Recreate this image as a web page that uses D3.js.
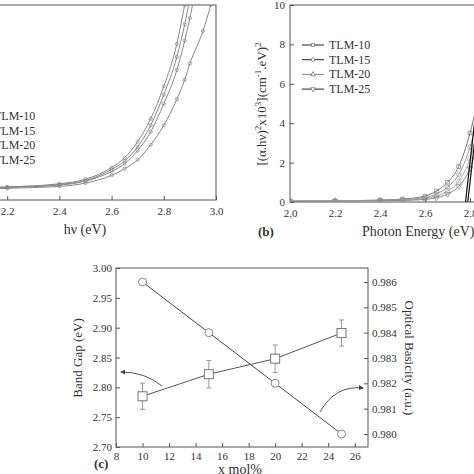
<!DOCTYPE html>
<html><head><meta charset="utf-8">
<script src="https://cdn.jsdelivr.net/npm/d3@7"></script>
<style>body{margin:0;background:#fff}text{font-family:"Liberation Serif",serif;fill:#333}</style>
</head><body><svg id="fig" width="474" height="474"></svg>
<script>
var names = ["TLM-10", "TLM-15", "TLM-20", "TLM-25"];

// panel (a) absorption edge
var aX = [2.0, 2.2, 2.4, 2.5, 2.6, 2.65, 2.7, 2.75, 2.8, 2.85, 2.88, 2.9, 2.95, 2.98, 3.0];
var aY = [
  [0.18, 0.2, 0.25, 0.32, 0.5, 0.65, 0.9, 1.25, 1.75, 2.4, 3.0, 3.4, 4, 4, 4],
  [0.17, 0.2, 0.24, 0.3, 0.47, 0.6, 0.82, 1.15, 1.62, 2.2, 2.7, 3.1, 4, 4, 4],
  [0.16, 0.19, 0.23, 0.29, 0.44, 0.56, 0.76, 1.05, 1.48, 2.0, 2.45, 2.8, 3.8, 4, 4],
  [0.15, 0.18, 0.21, 0.26, 0.38, 0.48, 0.62, 0.85, 1.15, 1.55, 1.85, 2.1, 2.6, 3.0, 3.3]
];

// panel (b) Tauc plot
var bX = [2.0, 2.2, 2.4, 2.5, 2.6, 2.65, 2.7, 2.75, 2.8, 2.85];
var bY = [
  [0.05, 0.06, 0.1, 0.15, 0.3, 0.55, 1.0, 1.8, 3.5, 6.0],
  [0.04, 0.05, 0.08, 0.12, 0.22, 0.4, 0.75, 1.4, 2.8, 5.2],
  [0.04, 0.05, 0.07, 0.1, 0.18, 0.3, 0.55, 1.05, 2.2, 4.5],
  [0.03, 0.04, 0.06, 0.08, 0.13, 0.22, 0.4, 0.8, 1.7, 3.8]
];
var bTangents = [[2.78, 0, 2.84, 6], [2.79, 0, 2.85, 6]];

// panel (c)
var xMol = [10, 15, 20, 25];
var bandGap = [2.785, 2.822, 2.848, 2.891];
var bandErr = [0.022, 0.023, 0.023, 0.022];
var basicity = [0.986, 0.984, 0.982, 0.980];

var svg = d3.select("#fig");
var grey = "#888";

function frame(g, x0, y0, x1, y1, id) {
  svg.append("clipPath").attr("id", id).append("rect")
    .attr("x", x0).attr("y", y0).attr("width", x1 - x0).attr("height", y1 - y0);
  g.append("rect").attr("x", x0).attr("y", y0).attr("width", x1 - x0).attr("height", y1 - y0)
    .attr("fill", "none").attr("stroke", "#555").attr("stroke-width", 1);
}
function styleAxis(a) {
  a.selectAll("path").remove();
  a.selectAll("line").attr("stroke", "#555");
  a.selectAll("text").style("font-size", "11px");
}

// ---- (a)
var ga = svg.append("g");
var xa = d3.scaleLinear().domain([2.0, 3.0]).range([-45, 216]);
var ya = d3.scaleLinear().domain([0, 3]).range([200, 5]);
frame(ga, -50, 5, 216, 200, "ca");
ga.append("g").attr("transform", "translate(0,200)")
  .call(d3.axisBottom(xa).tickValues([2.0, 2.2, 2.4, 2.6, 2.8, 3.0]).tickSize(-4).tickPadding(7).tickFormat(d3.format(".1f")))
  .call(styleAxis);
ga.append("text").attr("x", 85).attr("y", 234).attr("text-anchor", "middle").style("font-size", "14px").text("hν (eV)");
var pa = ga.append("g").attr("clip-path", "url(#ca)");
aY.forEach(function (ys) {
  var pts = aX.map(function (x, i) { return [xa(x), ya(ys[i])]; });
  pa.append("path").attr("d", d3.line().curve(d3.curveMonotoneX)(pts))
    .attr("fill", "none").attr("stroke", grey).attr("stroke-width", 1);
  pa.selectAll(null).data(pts).enter().append("circle")
    .attr("cx", function (d) { return d[0]; }).attr("cy", function (d) { return d[1]; })
    .attr("r", 1.6).attr("fill", "none").attr("stroke", grey).attr("stroke-width", 0.7);
});
names.forEach(function (n, i) {
  ga.append("text").attr("x", -6).attr("y", 120 + i * 14.5).style("font-size", "12px").text(n);
});

// ---- (b)
var gb = svg.append("g");
var xb = d3.scaleLinear().domain([2.0, 2.8]).range([290, 470]);
var yb = d3.scaleLinear().domain([0, 10]).range([202, 5]);
frame(gb, 290, 5, 480, 202, "cb");
gb.append("g").attr("transform", "translate(0,202)")
  .call(d3.axisBottom(xb).tickValues([2.0, 2.2, 2.4, 2.6, 2.8]).tickSize(-4).tickPadding(7).tickFormat(d3.format(".1f")))
  .call(styleAxis);
gb.append("g").attr("transform", "translate(290,0)")
  .call(d3.axisLeft(yb).tickValues([0, 2, 4, 6, 8, 10]).tickSize(-4).tickPadding(5))
  .call(styleAxis);
gb.append("text").attr("transform", "translate(266,104) rotate(-90)").attr("text-anchor", "middle")
  .style("font-size", "13px").html("[(α.hν)<tspan dy='-5' font-size='9'>2</tspan><tspan dy='5'>x10</tspan><tspan dy='-5' font-size='9'>3</tspan><tspan dy='5'>](cm</tspan><tspan dy='-5' font-size='9'>-1</tspan><tspan dy='5'>.eV)</tspan><tspan dy='-5' font-size='9'>2</tspan>");
gb.append("text").attr("x", 258).attr("y", 236).style("font-size", "13px").style("font-weight", "bold").text("(b)");
gb.append("text").attr("x", 362).attr("y", 236).style("font-size", "14px").text("Photon Energy (eV)");
var pb = gb.append("g").attr("clip-path", "url(#cb)");
var syms = [d3.symbolSquare, d3.symbolCircle, d3.symbolTriangle, d3.symbolTriangle];
var bCol = ["#777", "#999", "#aaa", "#888"];
bY.forEach(function (ys, k) {
  var pts = bX.map(function (x, i) { return [xb(x), yb(ys[i])]; });
  pb.append("path").attr("d", d3.line().curve(d3.curveMonotoneX)(pts))
    .attr("fill", "none").attr("stroke", bCol[k]).attr("stroke-width", 1);
  pb.selectAll(null).data(pts).enter().append("path")
    .attr("d", d3.symbol().type(syms[k]).size(14))
    .attr("transform", function (d) { return "translate(" + d[0] + "," + d[1] + ")" + (k === 3 ? " rotate(180)" : ""); })
    .attr("fill", "none").attr("stroke", bCol[k]).attr("stroke-width", 0.7);
});
bTangents.forEach(function (t) {
  pb.append("line").attr("x1", xb(t[0])).attr("y1", yb(t[1])).attr("x2", xb(t[2])).attr("y2", yb(t[3]))
    .attr("stroke", "#111").attr("stroke-width", 1.2);
});
names.forEach(function (n, i) {
  var y = 45 + i * 14.7;
  gb.append("line").attr("x1", 302).attr("x2", 324).attr("y1", y).attr("y2", y).attr("stroke", i === 2 ? "#888" : "#222");
  gb.append("path").attr("d", d3.symbol().type(syms[i]).size(10)())
    .attr("transform", "translate(313," + y + ")" + (i === 3 ? " rotate(180)" : ""))
    .attr("fill", "#fff").attr("stroke", "#666").attr("stroke-width", 0.7);
  gb.append("text").attr("x", 329).attr("y", y + 4).style("font-size", "12px").text(n);
});

// ---- (c)
var gc = svg.append("g");
var xc = d3.scaleLinear().domain([8, 27]).range([116, 368]);
var yc = d3.scaleLinear().domain([2.70, 3.00]).range([447, 268]);
var yr = d3.scaleLinear().domain([0.980, 0.986]).range([434, 282]);
frame(gc, 116, 268, 368, 447, "cc");
gc.append("g").attr("transform", "translate(0,447)")
  .call(d3.axisBottom(xc).tickValues(d3.range(8, 27, 2)).tickSize(-4).tickPadding(5))
  .call(styleAxis);
gc.append("g").attr("transform", "translate(116,0)")
  .call(d3.axisLeft(yc).tickValues([2.70, 2.75, 2.80, 2.85, 2.90, 2.95, 3.00]).tickSize(-4).tickPadding(4).tickFormat(d3.format(".2f")))
  .call(styleAxis);
gc.append("g").attr("transform", "translate(368,0)")
  .call(d3.axisRight(yr).tickValues(d3.range(0, 7).map(function (i) { return basicity[3] + i * 0.001; })).tickSize(-4).tickPadding(4).tickFormat(d3.format(".3f")))
  .call(styleAxis);
gc.append("text").attr("transform", "translate(82,358) rotate(-90)").attr("text-anchor", "middle").style("font-size", "13px").text("Band Gap (eV)");
gc.append("text").attr("transform", "translate(405,358) rotate(90)").attr("text-anchor", "middle").style("font-size", "13px").text("Optical Basicity (a.u.)");
gc.append("text").attr("x", 94).attr("y", 468).style("font-size", "13px").style("font-weight", "bold").text("(c)");
gc.append("text").attr("x", 240).attr("y", 474).attr("text-anchor", "middle").style("font-size", "14px").text("x mol%");
var bgPts = xMol.map(function (x, i) { return [xc(x), yc(bandGap[i])]; });
gc.append("path").attr("d", d3.line()(bgPts)).attr("fill", "none").attr("stroke", "#555");
xMol.forEach(function (x, i) {
  var cx = xc(x), t = yc(bandGap[i] + bandErr[i]), b = yc(bandGap[i] - bandErr[i]);
  gc.append("line").attr("x1", cx).attr("x2", cx).attr("y1", t).attr("y2", b).attr("stroke", "#999");
  [t, b].forEach(function (y) {
    gc.append("line").attr("x1", cx - 2.5).attr("x2", cx + 2.5).attr("y1", y).attr("y2", y).attr("stroke", "#999");
  });
});
gc.selectAll(null).data(bgPts).enter().append("rect")
  .attr("x", function (d) { return d[0] - 4.5; }).attr("y", function (d) { return d[1] - 4.5; })
  .attr("width", 9).attr("height", 9).attr("fill", "#fff").attr("stroke", "#777");
var obPts = xMol.map(function (x, i) { return [xc(x), yr(basicity[i])]; });
gc.append("path").attr("d", d3.line()(obPts)).attr("fill", "none").attr("stroke", "#444");
gc.selectAll(null).data(obPts).enter().append("circle")
  .attr("cx", function (d) { return d[0]; }).attr("cy", function (d) { return d[1]; })
  .attr("r", 4).attr("fill", "#fff").attr("stroke", "#888");
svg.append("defs").append("marker").attr("id", "ah").attr("viewBox", "0 0 6 6").attr("refX", 5).attr("refY", 3)
  .attr("markerWidth", 5).attr("markerHeight", 5).attr("orient", "auto")
  .append("path").attr("d", "M0,0L6,3L0,6Z").attr("fill", "#444");
gc.append("path").attr("d", "M162,386 Q145,372 121,372").attr("fill", "none").attr("stroke", "#555").attr("marker-end", "url(#ah)");
gc.append("path").attr("d", "M320,412 Q335,385 363,388").attr("fill", "none").attr("stroke", "#555").attr("marker-end", "url(#ah)");
</script></body></html>
